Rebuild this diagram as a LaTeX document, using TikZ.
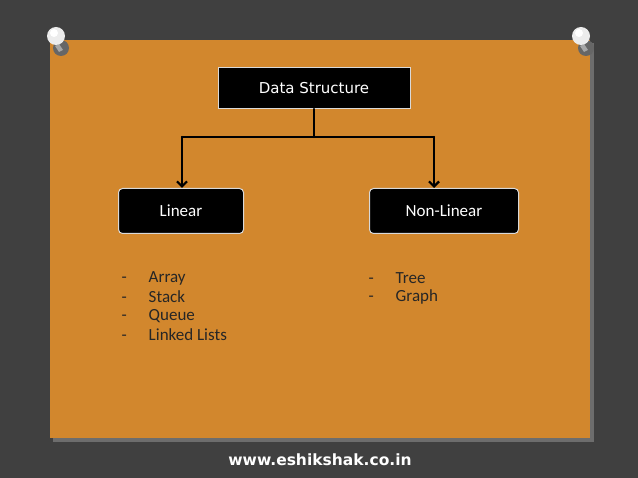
\documentclass[tikz,border=0pt]{standalone}
\usepackage{fontspec}
\setmainfont{Carlito}
\newfontfamily\wide{DejaVu Sans}
\usetikzlibrary{arrows.meta}
\begin{document}
\begin{tikzpicture}[x=1pt,y=-1pt,
  box/.style={fill=black,draw=white!85!black,line width=1pt,rounded corners=4pt,text=white,font=\fontsize{17}{20}\selectfont},
  conn/.style={line width=2.2pt,line cap=round},
  item/.style={anchor=west,font=\fontsize{17}{20}\selectfont,text=black!85}]
\useasboundingbox (0,0) rectangle (638,478);
\fill[black!75] (0,0) rectangle (638,478);
\fill[black!45,opacity=0.6] (53,43) rectangle (594,442);
\fill[color={rgb,255:red,210;green,135;blue,45}] (50,40) rectangle (590,438);
% pins
\foreach \px in {57,582}{
  \fill[black!60] (\px+4,48) circle (8);
  \fill[gray!70] (\px+2,44) -- (\px+6,50) -- (\px+2,52) -- (\px-2,46) -- cycle;
  \fill[white!85!gray] (\px-1,36) circle (9);
  \fill[white] (\px-3,33) circle (4);
}
\node[box,rounded corners=0pt,minimum width=192pt,minimum height=41pt,font=\wide\fontsize{15}{18}\selectfont] (ds) at (314,88) {Data Structure};
\node[box,minimum width=125pt,minimum height=45pt] (lin) at (181,211) {Linear};
\node[box,minimum width=149pt,minimum height=45pt] (nl) at (444,211) {Non-Linear};
\coordinate (j) at (314,137);
\coordinate (jl) at (182,137);
\coordinate (jr) at (434,137);
\draw[conn] (ds.south) -- (j);
\draw[conn] (jl) -- (jr);
\draw[conn,-{Straight Barb[length=5pt,width=10pt]}] (jl) -- (jl |- lin.north);
\draw[conn,-{Straight Barb[length=5pt,width=10pt]}] (jr) -- (jr |- nl.north);
\node[item] (a1) at (118,278) {-\hspace{22pt}Array};
\node[item] (a2) at (118,297) {-\hspace{22pt}Stack};
\node[item] (a3) at (118,316) {-\hspace{22pt}Queue};
\node[item] (a4) at (118,335) {-\hspace{22pt}Linked Lists};
\node[item] (b1) at (365,278) {-\hspace{22pt}Tree};
\node[item] (b2) at (365,297) {-\hspace{22pt}Graph};
\node[text=white,font=\wide\bfseries\fontsize{15.5}{18}\selectfont] (url) at (320,460) {www.eshikshak.co.in};
\end{tikzpicture}
\end{document}
